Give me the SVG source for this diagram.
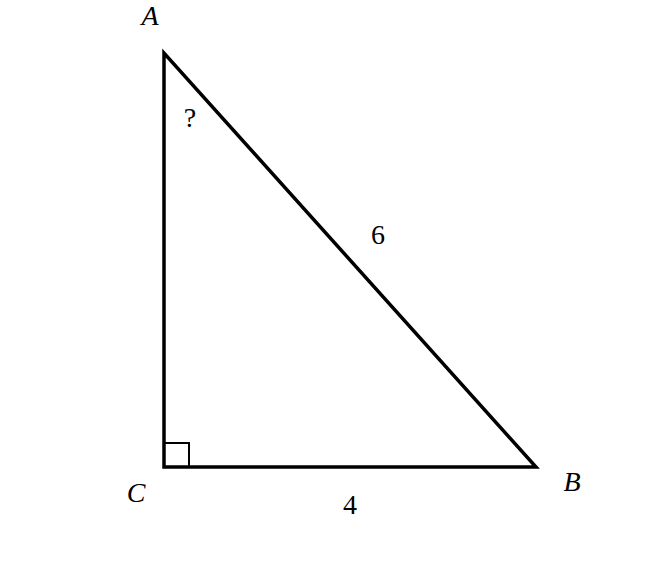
<svg xmlns="http://www.w3.org/2000/svg" width="667" height="575" viewBox="0 0 667 575">
<style>
.edge{fill:none;stroke:#000;stroke-width:3.5;stroke-linejoin:miter}
.mark{fill:none;stroke:#000;stroke-width:2}
.lbl{font-family:"Liberation Serif","DejaVu Serif",serif;font-size:28px;font-style:italic;fill:#000}
.num{font-family:"Liberation Serif","DejaVu Serif",serif;font-size:28px;fill:#000}
</style>
<rect width="667" height="575" fill="#fff"/>
<g id="connectors">
<path class="edge" d="M164,53 L164,467 L536,467 Z"/>
<path class="mark" d="M164,443 L189,443 L189,467"/>
</g>
<g id="A"><text class="lbl" x="150" y="25" text-anchor="middle">A</text></g>
<g id="C"><text class="lbl" x="136" y="502" text-anchor="middle">C</text></g>
<g id="B"><text class="lbl" x="572" y="491" text-anchor="middle">B</text></g>
<g id="angle"><text class="num" x="190" y="127" text-anchor="middle">?</text></g>
<g id="hyp"><text class="num" x="378" y="244" text-anchor="middle">6</text></g>
<g id="base"><text class="num" x="350" y="514" text-anchor="middle">4</text></g>
</svg>
